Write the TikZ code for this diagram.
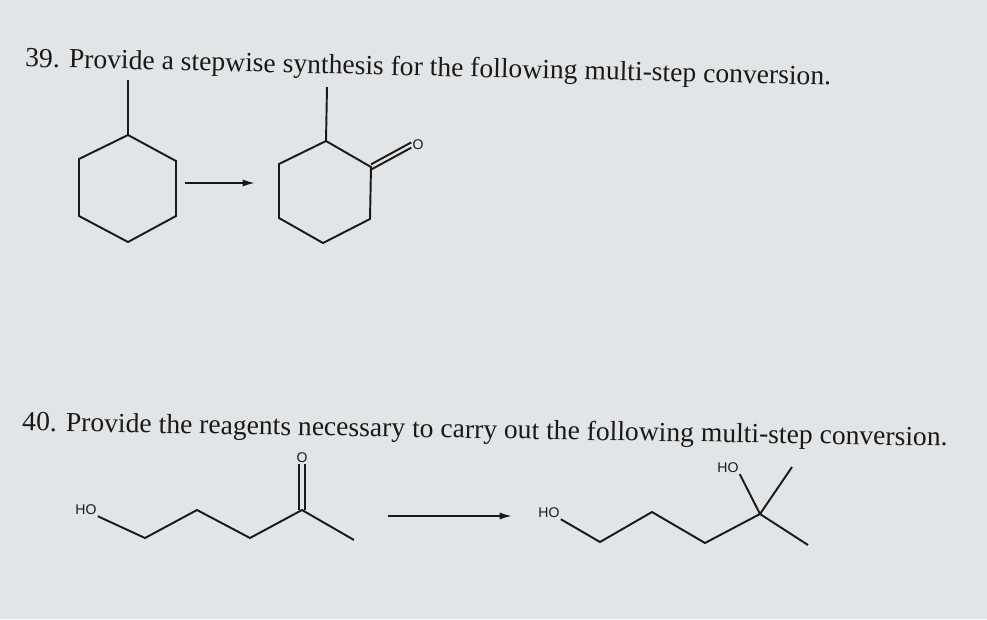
\documentclass[tikz,border=0pt]{standalone}
\usepackage{fontspec}
\usetikzlibrary{arrows.meta}
\setmainfont{Liberation Serif}
\newfontfamily\labfont{Liberation Sans}
\definecolor{paper}{RGB}{226,229,231}
\definecolor{ink}{RGB}{25,25,25}
\begin{document}
\begin{tikzpicture}[x=0.02cm,y=-0.02cm,
  bond/.style={draw=ink,line width=1.1pt,line join=miter},
  title/.style={anchor=west,font=\fontsize{15.7}{17}\selectfont,text=ink,rotate=-1.3,inner sep=0},
  atom/.style={font=\labfont\fontsize{8}{9}\selectfont,text=ink,inner sep=0.5pt},
  rxn/.style={draw=ink,line width=1pt,-{Latex[length=7pt,width=4pt]}}]
\fill[paper] (0,0) rectangle (987,619);
\node[title] (t1) at (25,60) {39. Provide a stepwise synthesis for the following multi-step conversion.};
\node[title,rotate=0.35] (t2) at (22,424) {40. Provide the reagents necessary to carry out the following multi-step conversion.};
% ring 1
\coordinate (a1) at (128,135); \coordinate (a2) at (176,161); \coordinate (a3) at (176,216);
\coordinate (a4) at (128,242); \coordinate (a5) at (79,216); \coordinate (a6) at (79,159);
\coordinate (am) at (128,80);
\draw[bond] (a1)--(a2)--(a3)--(a4)--(a5)--(a6)--cycle (a1)--(am);
\coordinate (r1s) at (185,183); \coordinate (r1e) at (255,183);
\draw[rxn] (r1s)--(r1e);
% ring 2
\coordinate (b1) at (326,141); \coordinate (b2) at (371,167); \coordinate (b3) at (370,219);
\coordinate (b4) at (323,243); \coordinate (b5) at (279,218); \coordinate (b6) at (279,164);
\coordinate (bm) at (327,87);
\node[atom] (bo) at (418,145) {O};
\draw[bond] (b1)--(b2)--(b3)--(b4)--(b5)--(b6)--cycle (b1)--(bm);
\draw[bond] ([yshift=-1.5pt]b2)--([yshift=-1.5pt]bo.west);
\draw[bond] ([yshift=1.5pt]b2)--([yshift=1.5pt]bo.west);
% bottom left molecule
\node[atom] (ho1) at (86,510) {HO};
\coordinate (c1) at (145,538); \coordinate (c2) at (197,510); \coordinate (c3) at (250,538);
\coordinate (c4) at (302,510); \coordinate (c5) at (354,540);
\node[atom] (o2) at (302,458) {O};
\draw[bond] (ho1.south east)--(c1)--(c2)--(c3)--(c4)--(c5);
\draw[bond] ([xshift=-1.6pt]c4)--([xshift=-1.6pt]o2.south);
\draw[bond] ([xshift=1.6pt]c4)--([xshift=1.6pt]o2.south);
\coordinate (r2s) at (388,516); \coordinate (r2e) at (512,516);
\draw[rxn] (r2s)--(r2e);
% bottom right molecule
\node[atom] (ho2) at (549,513) {HO};
\coordinate (d1) at (600,542); \coordinate (d2) at (652,512); \coordinate (d3) at (705,543);
\coordinate (d4) at (760,514); \coordinate (d5) at (792,467); \coordinate (d6) at (808,545);
\node[atom] (ho3) at (728,468) {HO};
\draw[bond] (ho2.south east)--(d1)--(d2)--(d3)--(d4)--(d5) (d4)--(d6) (d4)--(ho3.south east);
\end{tikzpicture}
\end{document}
